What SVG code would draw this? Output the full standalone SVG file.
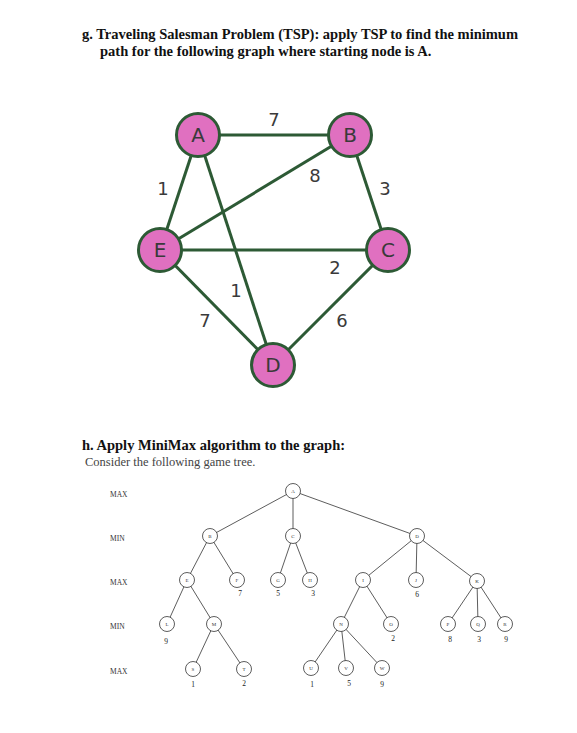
<svg xmlns="http://www.w3.org/2000/svg" width="577" height="733" viewBox="0 0 577 733">
<style>
.title{font-family:"Liberation Serif",serif;font-weight:bold;font-size:14.5px;fill:#111}
.sub{font-family:"Liberation Serif",serif;font-size:12.5px;fill:#444}
.gedge{stroke:#2d5a35;stroke-width:3;fill:none}
.gnode{fill:#e070c0;stroke:#2d5a35;stroke-width:3}
.glbl{font-family:"DejaVu Sans",sans-serif;font-size:20px;fill:#3a3a3a;text-anchor:middle;dominant-baseline:central}
.gw{font-family:"DejaVu Sans",sans-serif;font-size:18px;fill:#3a3a3a;text-anchor:middle;dominant-baseline:central}
.tedge{stroke:#333;stroke-width:0.8;fill:none}
.tnode{fill:#fff;stroke:#333;stroke-width:0.8}
.tlbl{font-family:"Liberation Serif",serif;font-size:5px;fill:#333;text-anchor:middle;dominant-baseline:central}
.tval{font-family:"Liberation Serif",serif;font-size:7.5px;fill:#222;text-anchor:middle;dominant-baseline:central}
.lvl{font-family:"Liberation Serif",serif;font-size:7.5px;fill:#333}
</style>
<rect width="577" height="733" fill="#fff"/>
<text class="title" x="82" y="39">g.  Traveling Salesman Problem (TSP): apply TSP to find the minimum</text>
<text class="title" x="100" y="56">path for the following graph where starting node is A.</text>

<g id="tsp-edges">
<line class="gedge" x1="198" y1="135" x2="350" y2="135"/>
<line class="gedge" x1="198" y1="135" x2="160" y2="250"/>
<line class="gedge" x1="198" y1="135" x2="273" y2="365"/>
<line class="gedge" x1="350" y1="135" x2="160" y2="250"/>
<line class="gedge" x1="350" y1="135" x2="388" y2="250"/>
<line class="gedge" x1="160" y1="250" x2="388" y2="250"/>
<line class="gedge" x1="160" y1="250" x2="273" y2="365"/>
<line class="gedge" x1="388" y1="250" x2="273" y2="365"/>
<text class="gw" x="274" y="119">7</text>
<text class="gw" x="315" y="175">8</text>
<text class="gw" x="385" y="188">3</text>
<text class="gw" x="163" y="188">1</text>
<text class="gw" x="335" y="267">2</text>
<text class="gw" x="236" y="290">1</text>
<text class="gw" x="205" y="320">7</text>
<text class="gw" x="342" y="320">6</text>
</g>
<g id="tsp-A"><circle class="gnode" cx="198" cy="135" r="21.5"/><text class="glbl" x="198" y="135">A</text></g>
<g id="tsp-B"><circle class="gnode" cx="350" cy="135" r="21.5"/><text class="glbl" x="350" y="135">B</text></g>
<g id="tsp-E"><circle class="gnode" cx="160" cy="250" r="21.5"/><text class="glbl" x="160" y="250">E</text></g>
<g id="tsp-C"><circle class="gnode" cx="388" cy="250" r="21.5"/><text class="glbl" x="388" y="250">C</text></g>
<g id="tsp-D"><circle class="gnode" cx="273" cy="365" r="21.5"/><text class="glbl" x="273" y="365">D</text></g>

<text class="title" x="82" y="450" style="font-size:14.5px">h.  Apply MiniMax algorithm to the graph:</text>
<text class="sub" x="85" y="466">Consider the following game tree.</text>

<text class="lvl" x="110" y="497">MAX</text>
<text class="lvl" x="110" y="541">MIN</text>
<text class="lvl" x="110" y="585">MAX</text>
<text class="lvl" x="110" y="629">MIN</text>
<text class="lvl" x="110" y="674">MAX</text>

<g id="tree-edges">
<line class="tedge" x1="293" y1="491" x2="210" y2="536"/>
<line class="tedge" x1="293" y1="491" x2="293" y2="536"/>
<line class="tedge" x1="293" y1="491" x2="417" y2="536"/>
<line class="tedge" x1="210" y1="536" x2="187" y2="580"/>
<line class="tedge" x1="210" y1="536" x2="237" y2="580"/>
<line class="tedge" x1="293" y1="536" x2="278" y2="580"/>
<line class="tedge" x1="293" y1="536" x2="310" y2="580"/>
<line class="tedge" x1="417" y1="536" x2="363" y2="580"/>
<line class="tedge" x1="417" y1="536" x2="416" y2="580"/>
<line class="tedge" x1="417" y1="536" x2="477" y2="581"/>
<line class="tedge" x1="187" y1="580" x2="167" y2="624"/>
<line class="tedge" x1="187" y1="580" x2="214" y2="624"/>
<line class="tedge" x1="214" y1="624" x2="193" y2="669"/>
<line class="tedge" x1="214" y1="624" x2="244" y2="669"/>
<line class="tedge" x1="363" y1="580" x2="341" y2="624"/>
<line class="tedge" x1="363" y1="580" x2="391" y2="624"/>
<line class="tedge" x1="341" y1="624" x2="311" y2="668"/>
<line class="tedge" x1="341" y1="624" x2="346" y2="668"/>
<line class="tedge" x1="341" y1="624" x2="382" y2="668"/>
<line class="tedge" x1="477" y1="581" x2="448" y2="624"/>
<line class="tedge" x1="477" y1="581" x2="478" y2="624"/>
<line class="tedge" x1="477" y1="581" x2="505" y2="624"/>
</g>
<g id="t-A"><circle class="tnode" cx="293" cy="491" r="7.5"/><text class="tlbl" x="293" y="491">A</text></g>
<g id="t-B"><circle class="tnode" cx="210" cy="536" r="7.5"/><text class="tlbl" x="210" y="536">B</text></g>
<g id="t-C"><circle class="tnode" cx="293" cy="536" r="7.5"/><text class="tlbl" x="293" y="536">C</text></g>
<g id="t-D"><circle class="tnode" cx="417" cy="536" r="7.5"/><text class="tlbl" x="417" y="536">D</text></g>
<g id="t-E"><circle class="tnode" cx="187" cy="580" r="7.5"/><text class="tlbl" x="187" y="580">E</text></g>
<g id="t-F"><circle class="tnode" cx="237" cy="580" r="7.5"/><text class="tlbl" x="237" y="580">F</text><text class="tval" x="240" y="593">7</text></g>
<g id="t-G"><circle class="tnode" cx="278" cy="580" r="7.5"/><text class="tlbl" x="278" y="580">G</text><text class="tval" x="278" y="593">5</text></g>
<g id="t-H"><circle class="tnode" cx="310" cy="580" r="7.5"/><text class="tlbl" x="310" y="580">H</text><text class="tval" x="313" y="593">3</text></g>
<g id="t-I"><circle class="tnode" cx="363" cy="580" r="7.5"/><text class="tlbl" x="363" y="580">I</text></g>
<g id="t-J"><circle class="tnode" cx="416" cy="580" r="7.5"/><text class="tlbl" x="416" y="580">J</text><text class="tval" x="417" y="594">6</text></g>
<g id="t-K"><circle class="tnode" cx="477" cy="581" r="7.5"/><text class="tlbl" x="477" y="581">K</text></g>
<g id="t-L"><circle class="tnode" cx="167" cy="624" r="7.5"/><text class="tlbl" x="167" y="624">L</text><text class="tval" x="166" y="641">9</text></g>
<g id="t-M"><circle class="tnode" cx="214" cy="624" r="7.5"/><text class="tlbl" x="214" y="624">M</text></g>
<g id="t-N"><circle class="tnode" cx="341" cy="624" r="7.5"/><text class="tlbl" x="341" y="624">N</text></g>
<g id="t-O"><circle class="tnode" cx="391" cy="624" r="7.5"/><text class="tlbl" x="391" y="624">O</text><text class="tval" x="393" y="638">2</text></g>
<g id="t-P"><circle class="tnode" cx="448" cy="624" r="7.5"/><text class="tlbl" x="448" y="624">P</text><text class="tval" x="450" y="639">8</text></g>
<g id="t-Q"><circle class="tnode" cx="478" cy="624" r="7.5"/><text class="tlbl" x="478" y="624">Q</text><text class="tval" x="479" y="639">3</text></g>
<g id="t-R"><circle class="tnode" cx="505" cy="624" r="7.5"/><text class="tlbl" x="505" y="624">R</text><text class="tval" x="506" y="639">9</text></g>
<g id="t-S"><circle class="tnode" cx="193" cy="669" r="7.5"/><text class="tlbl" x="193" y="669">S</text><text class="tval" x="193" y="684">1</text></g>
<g id="t-T"><circle class="tnode" cx="244" cy="669" r="7.5"/><text class="tlbl" x="244" y="669">T</text><text class="tval" x="244" y="683">2</text></g>
<g id="t-U"><circle class="tnode" cx="311" cy="668" r="7.5"/><text class="tlbl" x="311" y="668">U</text><text class="tval" x="312" y="684">1</text></g>
<g id="t-V"><circle class="tnode" cx="346" cy="668" r="7.5"/><text class="tlbl" x="346" y="668">V</text><text class="tval" x="349" y="683">5</text></g>
<g id="t-W"><circle class="tnode" cx="382" cy="668" r="7.5"/><text class="tlbl" x="382" y="668">W</text><text class="tval" x="382" y="684">9</text></g>
</svg>
